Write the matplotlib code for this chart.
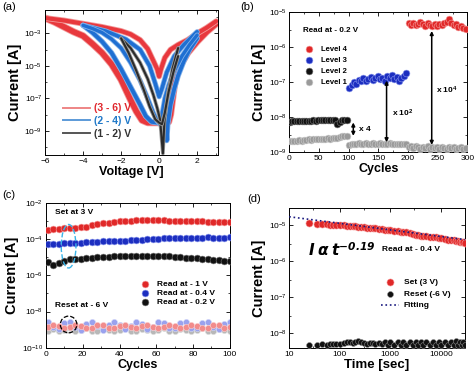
import numpy as np
import matplotlib
matplotlib.use('Agg')
import matplotlib.pyplot as plt
from matplotlib.ticker import LogLocator, NullFormatter, MultipleLocator, FixedLocator, FixedFormatter
from matplotlib.lines import Line2D
from matplotlib.patches import Ellipse

plt.rcParams['font.family'] = ['Liberation Sans', 'DejaVu Sans']
plt.rcParams['mathtext.fontset'] = 'custom'
plt.rcParams['mathtext.rm'] = 'Liberation Sans'
plt.rcParams['mathtext.it'] = 'Liberation Sans:italic'
plt.rcParams['mathtext.bf'] = 'Liberation Sans:bold'

# ---------------- (a) I-V sweeps, log10(|I|) ----------------
red_v_hrs = [-6, -5.5, -5, -4.5, -4, -3.5, -3, -2.5, -2, -1.5, -1.2, -0.9, -0.6, -0.3, 0.0, 0.3, 0.5, 0.6, 0.8, 1.0, 1.5, 2.0, 2.5, 3.0]
red_i_hrs = [-2.05, -2.3, -2.6, -2.9, -3.15, -3.65, -4.2, -4.9, -5.85, -7.1, -7.8, -8.35, -8.5, -8.5, -8.5, -8.5, -8.45, -8.0, -6.2, -5.2, -4.2, -3.5, -2.9, -2.4]
red_v_lrs = [-6, -5, -4, -3, -2, -1.5, -1.0, -0.6, -0.3, -0.1, 0.0, 0.1, 0.3, 0.6, 1.0, 1.5, 2.0, 2.5, 3.0]
red_i_lrs = [-2.05, -2.2, -2.4, -2.6, -2.85, -3.05, -3.4, -3.95, -4.7, -5.2, -5.65, -5.2, -4.5, -4.0, -3.7, -3.4, -3.0, -2.65, -2.25]

blue_v_hrs = [-4, -3.5, -3, -2.5, -2, -1.5, -1.0, -0.7, -0.4, -0.1, 0.2, 0.35, 0.4, 0.45, 0.6, 0.8, 1.0, 1.3, 1.6, 2.0]
blue_i_hrs = [-2.5, -2.95, -3.5, -4.2, -5.2, -6.3, -7.4, -8.1, -8.45, -8.5, -8.5, -8.8, -9.6, -8.6, -7.4, -6.4, -5.6, -4.7, -4.0, -3.3]
blue_v_mid = [-4, -3.5, -3, -2.5, -2, -1.5, -1.0, -0.6, -0.3, -0.1, 0.05, 0.15, 0.3, 0.5, 0.8, 1.2, 1.6, 2.0]
blue_i_mid = [-2.5, -2.7, -2.95, -3.35, -3.9, -4.8, -5.9, -7.0, -7.9, -8.4, -8.6, -8.0, -7.0, -6.2, -5.3, -4.4, -3.7, -3.1]
blue_v_lrs = [-4, -2.8, -1.75, -1.0, -0.5, -0.2, 0.0, 0.15, 0.4, 0.8, 1.3, 2.0]
blue_i_lrs = [-2.5, -2.86, -3.36, -4.0, -5.0, -6.1, -6.9, -6.4, -5.4, -4.4, -3.7, -2.9]

black_v_a = [-2, -1.5, -1.0, -0.6, -0.3, -0.1, 0.05, 0.2, 0.28, 0.45, 0.7, 1.0]
black_i_a = [-3.3, -3.9, -4.8, -5.8, -6.8, -7.6, -8.3, -10.4, -8.4, -6.8, -5.2, -3.9]
black_v_b = [-2, -1.6, -1.2, -0.8, -0.5, -0.2, 0.0, 0.15, 0.3, 0.5, 0.75, 1.0]
black_i_b = [-3.3, -4.2, -5.3, -6.5, -7.5, -8.3, -8.5, -8.6, -7.9, -6.6, -5.4, -4.4]

# ---------------- (b) multilevel retention vs cycles ----------------
lv2_cyc = np.arange(1, 100, 4)
lv2 = [7.4e-9, 7.6e-9, 7.5e-9, 7.7e-9, 7.6e-9, 7.8e-9, 7.7e-9, 7.9e-9, 7.8e-9, 7.9e-9, 8.0e-9, 7.9e-9, 8.1e-9,
       8.0e-9, 8.0e-9, 8.1e-9, 8.0e-9, 8.2e-9, 8.0e-9, 8.1e-9, 6.4e-9, 7.0e-9, 8.0e-9, 8.2e-9, 8.0e-9]
lv1_cyc = np.arange(1, 300, 4)
lv1 = [2.0e-9, 2.1e-9, 2.0e-9, 2.1e-9, 2.2e-9, 2.1e-9, 2.2e-9, 2.2e-9, 2.3e-9, 2.2e-9, 2.3e-9, 2.3e-9, 2.4e-9,
       2.3e-9, 2.4e-9, 2.4e-9, 2.5e-9, 2.4e-9, 2.5e-9, 2.5e-9, 2.6e-9, 2.7e-9, 2.8e-9, 2.9e-9, 2.8e-9,
       1.6e-9, 1.7e-9, 1.75e-9, 1.7e-9, 1.8e-9, 1.7e-9, 1.75e-9, 1.8e-9, 1.7e-9, 1.75e-9, 1.8e-9, 1.75e-9, 1.7e-9,
       1.8e-9, 1.75e-9, 1.7e-9, 1.75e-9, 1.8e-9, 1.7e-9, 1.65e-9, 1.75e-9, 1.7e-9, 1.65e-9, 1.7e-9, 1.75e-9,
       1.4e-9, 1.5e-9, 1.3e-9, 1.45e-9, 1.35e-9, 1.25e-9, 1.4e-9, 1.3e-9, 1.45e-9, 1.2e-9, 1.35e-9, 1.3e-9, 1.4e-9,
       1.25e-9, 1.35e-9, 1.3e-9, 1.2e-9, 1.35e-9, 1.3e-9, 1.4e-9, 1.25e-9, 1.3e-9, 1.35e-9, 1.2e-9, 1.3e-9]
lv3_cyc = np.arange(101, 200, 4)
lv3 = [7.0e-8, 8.5e-8, 1.0e-7, 9.0e-8, 1.15e-7, 1.05e-7, 1.3e-7, 1.1e-7, 1.25e-7, 1.4e-7, 1.15e-7, 1.3e-7, 1.5e-7,
       1.2e-7, 1.35e-7, 1.1e-7, 1.45e-7, 1.3e-7, 1.6e-7, 1.2e-7, 1.4e-7, 1.1e-7, 1.3e-7, 1.5e-7, 1.85e-7]
lv4_cyc = np.arange(201, 300, 4)
lv4 = [4.8e-6, 4.4e-6, 5.0e-6, 4.2e-6, 4.6e-6, 5.3e-6, 4.5e-6, 4.1e-6, 4.9e-6, 4.4e-6, 3.9e-6, 4.6e-6, 4.0e-6,
       4.5e-6, 4.2e-6, 4.8e-6, 5.2e-6, 6.3e-6, 5.0e-6, 4.3e-6, 4.7e-6, 3.8e-6, 4.0e-6, 3.5e-6, 3.3e-6]

# ---------------- (c) endurance ----------------
c_cyc = np.arange(1, 101, 3)
set_1v = [3.2e-4, 3.4e-4, 3.5e-4, 3.8e-4, 4.0e-4, 4.1e-4, 4.3e-4, 4.8e-4, 5.6e-4, 6.5e-4, 7.4e-4, 8.0e-4, 8.6e-4,
          9.2e-4, 9.6e-4, 1.0e-3, 1.05e-3, 1.08e-3, 1.1e-3, 1.08e-3, 1.06e-3, 1.05e-3, 1.03e-3, 1.0e-3, 9.8e-4,
          9.6e-4, 9.5e-4, 9.3e-4, 9.2e-4, 9.0e-4, 8.9e-4, 8.8e-4, 8.9e-4, 9.0e-4]
set_04v = [5.2e-5, 5.4e-5, 5.6e-5, 5.8e-5, 6.0e-5, 6.0e-5, 6.2e-5, 6.5e-5, 6.8e-5, 7.0e-5, 7.3e-5, 7.5e-5, 7.6e-5,
           7.8e-5, 8.0e-5, 8.4e-5, 8.8e-5, 9.2e-5, 9.6e-5, 1.0e-4, 1.04e-4, 1.08e-4, 1.1e-4, 1.12e-4, 1.14e-4,
           1.16e-4, 1.18e-4, 1.2e-4, 1.2e-4, 1.22e-4, 1.2e-4, 1.18e-4, 1.2e-4, 1.22e-4]
set_02v = [5.5e-6, 3.6e-6, 4.8e-6, 6.5e-6, 7.5e-6, 8.0e-6, 8.3e-6, 8.8e-6, 9.3e-6, 9.6e-6, 1.0e-5, 1.05e-5, 1.15e-5,
           1.1e-5, 1.15e-5, 1.18e-5, 1.2e-5, 1.18e-5, 1.15e-5, 1.15e-5, 1.18e-5, 1.12e-5, 1.1e-5, 1.05e-5, 1.0e-5,
           9.5e-6, 9.0e-6, 8.5e-6, 8.0e-6, 7.5e-6, 7.0e-6, 6.8e-6, 6.5e-6, 6.2e-6]
reset_1v = [1.5e-9, 1.9e-9, 1.6e-9, 1.2e-9, 1.4e-9, 1.9e-9, 1.7e-9, 1.2e-9, 1.3e-9, 1.8e-9, 1.8e-9, 1.3e-9, 1.2e-9,
            1.7e-9, 1.9e-9, 1.4e-9, 1.2e-9, 1.6e-9, 1.9e-9, 1.5e-9, 1.2e-9, 1.5e-9, 1.9e-9, 1.6e-9, 1.2e-9,
            1.4e-9, 1.9e-9, 1.7e-9, 1.2e-9, 1.3e-9, 1.8e-9, 1.8e-9, 1.3e-9, 1.4e-9]
reset_04v = [2.6e-9, 1.4e-9, 1.1e-9, 2.2e-9, 2.8e-9, 1.5e-9, 1.0e-9, 2.0e-9, 2.8e-9, 1.7e-9, 1.0e-9, 1.8e-9, 2.7e-9,
             1.9e-9, 1.1e-9, 1.6e-9, 2.6e-9, 2.1e-9, 1.1e-9, 1.4e-9, 2.5e-9, 2.3e-9, 1.2e-9, 1.3e-9, 2.4e-9,
             2.5e-9, 1.3e-9, 1.2e-9, 2.2e-9, 2.6e-9, 1.4e-9, 1.1e-9, 2.1e-9, 2.7e-9]
reset_02v = [9e-10, 1.1e-9, 8e-10, 1.0e-9, 1.2e-9, 8.5e-10, 9.5e-10, 1.2e-9, 9e-10, 8.5e-10, 1.1e-9, 1.0e-9, 8e-10,
             1.0e-9, 1.2e-9, 9e-10, 8.5e-10, 1.1e-9, 1.0e-9, 8e-10, 1.0e-9, 1.2e-9, 9e-10, 8.5e-10, 1.1e-9,
             1.0e-9, 8e-10, 9.5e-10, 1.2e-9, 9e-10, 8.5e-10, 1.1e-9, 1.0e-9, 9e-10]

# ---------------- (d) retention vs time ----------------
t_sec = [25, 35, 45, 55, 65, 75, 85, 100, 120, 140, 160, 180, 200, 230, 260, 300, 350, 400, 450, 500, 600, 700,
         800, 900, 1000, 1200, 1400, 1600, 1800, 2000, 2400, 2800, 3200, 3600, 4000, 4500, 5000, 6000, 7000, 8000,
         9000, 10000, 12000, 14000, 16000, 18000, 20000, 22000, 24000, 26000, 28000, 30000]
i_set = [1.1e-5, 1.08e-5, 1.04e-5, 1.03e-5, 1.02e-5, 1.0e-5, 9.9e-6, 9.8e-6, 9.7e-6, 9.6e-6, 9.5e-6, 9.4e-6, 9.2e-6,
         9.0e-6, 8.9e-6, 8.7e-6, 8.4e-6, 8.2e-6, 8.1e-6, 8.0e-6, 7.8e-6, 7.6e-6, 7.4e-6, 7.3e-6, 7.1e-6, 6.9e-6,
         6.7e-6, 6.5e-6, 6.3e-6, 6.2e-6, 5.9e-6, 5.6e-6, 5.3e-6, 5.1e-6, 4.9e-6, 4.8e-6, 4.8e-6, 4.7e-6, 4.6e-6,
         4.5e-6, 4.4e-6, 4.3e-6, 4.1e-6, 3.9e-6, 3.8e-6, 3.7e-6, 3.6e-6, 3.5e-6, 3.4e-6, 3.35e-6, 3.3e-6, 3.2e-6]
i_reset = [4.7e-9, 4.6e-9, 4.8e-9, 4.7e-9, 4.9e-9, 4.8e-9, 5.0e-9, 4.9e-9, 5.2e-9, 5.4e-9, 5.6e-9, 5.3e-9, 5.6e-9,
           5.8e-9, 5.4e-9, 5.2e-9, 5.0e-9, 5.3e-9, 5.1e-9, 4.9e-9, 5.2e-9, 4.8e-9, 5.4e-9, 4.7e-9, 5.5e-9, 4.6e-9,
           5.6e-9, 4.7e-9, 5.5e-9, 4.6e-9, 5.6e-9, 4.7e-9, 5.5e-9, 4.6e-9, 5.5e-9, 4.7e-9, 5.6e-9, 4.6e-9, 5.5e-9,
           4.7e-9, 5.6e-9, 4.6e-9, 5.7e-9, 4.7e-9, 5.6e-9, 4.6e-9, 5.8e-9, 4.7e-9, 5.6e-9, 4.6e-9, 5.7e-9, 4.7e-9]
fit_t = [10, 30000]
fit_i = [1.69e-5, 3.9e-6]

RED = '#e8383d'
BLUE = '#1f6fd2'
DARK = '#2b2b2b'


def style(ax):
    ax.tick_params(which='both', direction='in', top=True, right=True, labelsize=6, pad=2)
    ax.tick_params(which='major', length=3, width=0.6)
    ax.tick_params(which='minor', length=1.6, width=0.5)
    for s in ax.spines.values():
        s.set_linewidth(0.7)


def log_ticks(ax, majors, minor_subs=(1.0,)):
    ax.yaxis.set_major_locator(FixedLocator(majors))
    ax.yaxis.set_minor_locator(LogLocator(base=10, subs=minor_subs, numticks=30))
    ax.yaxis.set_minor_formatter(NullFormatter())


def balls(ax, x, y, face, edge, s=24, label=None, z=3):
    return ax.scatter(x, y, s=s, c=face, edgecolors=edge, linewidths=0.4, label=label, zorder=z)


fig = plt.figure(figsize=(4.74, 3.81), dpi=100)

# ================= (a) =================
ax = fig.add_axes([0.095, 0.593, 0.365, 0.381])
style(ax)
curves = [(red_v_hrs, red_i_hrs, RED, '#f39a9a', 4.0),
          (red_v_lrs, red_i_lrs, RED, '#f39a9a', 3.0),
          (blue_v_hrs, blue_i_hrs, BLUE, '#7fb0ea', 2.8),
          (blue_v_lrs, blue_i_lrs, BLUE, '#7fb0ea', 2.6),
          (blue_v_mid, blue_i_mid, BLUE, '#7fb0ea', 2.4),
          (black_v_a, black_i_a, DARK, '#999999', 1.5),
          (black_v_b, black_i_b, DARK, '#999999', 1.5)]
for v, logi, c, light, lw in curves:
    ax.plot(v, 10.0 ** np.array(logi), color=light, lw=lw + 1.2, solid_capstyle='round')
    ax.plot(v, 10.0 ** np.array(logi), color=c, lw=lw, solid_capstyle='round')
ax.set_yscale('log')
ax.set_xlim(-6, 3.1)
ax.set_ylim(10 ** -10.5, 10 ** -1.55)
log_ticks(ax, [1e-9, 1e-7, 1e-5, 1e-3])
ax.xaxis.set_major_locator(FixedLocator([-6, -4, -2, 0, 2]))
ax.xaxis.set_minor_locator(MultipleLocator(1))
ax.set_xlabel('Voltage [V]', fontsize=9, fontweight='bold', labelpad=1)
ax.set_ylabel('Current [A]', fontsize=10.5, fontweight='bold', labelpad=2)
hand = [Line2D([], [], color='#ee8585', lw=1.4),
        Line2D([], [], color='#5c9ad8', lw=1.4),
        Line2D([], [], color='#555555', lw=1.4)]
leg = ax.legend(hand, ['(3 - 6) V', '(2 - 4) V', '(1 - 2) V'], loc='upper left',
                bbox_to_anchor=(0.05, 0.42), frameon=False, handlelength=2.6, handletextpad=0.4,
                labelspacing=0.25, prop={'size': 7.5, 'weight': 'bold'},
                labelcolor=['#e0262c', '#1f78c8', '#333333'])

# ================= (b) =================
ax = fig.add_axes([0.610, 0.601, 0.376, 0.367])
style(ax)
balls(ax, lv1_cyc, lv1, '#9a9a9a', '#cfcfcf', label='Level 1')
balls(ax, lv2_cyc, lv2, '#111111', '#777777', label='Level 2')
balls(ax, lv3_cyc, lv3, '#1c2ec0', '#8f9cf0', label='Level 3')
balls(ax, lv4_cyc, lv4, '#e02828', '#f7a0a0', label='Level 4')
ax.set_yscale('log')
ax.set_xlim(0, 300)
ax.set_ylim(1e-9, 1e-5)
log_ticks(ax, [1e-9, 1e-8, 1e-7, 1e-6, 1e-5], minor_subs=(3.0,))
ax.xaxis.set_major_locator(MultipleLocator(50))
ax.xaxis.set_minor_locator(MultipleLocator(25))
ax.set_xlabel('Cycles', fontsize=9, fontweight='bold', labelpad=1)
ax.set_ylabel('Current [A]', fontsize=10.5, fontweight='bold', labelpad=2)
arw = dict(arrowstyle='<|-|>', color='k', lw=1.1, mutation_scale=5, shrinkA=0, shrinkB=0)
ax.annotate('', xy=(108, 2.9e-9), xytext=(108, 7.0e-9), arrowprops=arw)
ax.annotate('', xy=(164, 1.9e-9), xytext=(164, 1.1e-7), arrowprops=arw)
ax.annotate('', xy=(240, 1.6e-9), xytext=(240, 2.9e-6), arrowprops=arw)
ax.text(117, 4.3e-9, 'x 4', fontsize=6, fontweight='bold', va='center')
ax.text(173, 1.3e-8, 'x 10$^{\\mathbf{2}}$', fontsize=6, fontweight='bold', va='center')
ax.text(247, 6.0e-8, 'x 10$^{\\mathbf{4}}$', fontsize=6, fontweight='bold', va='center')
ax.text(0.08, 0.87, 'Read at - 0.2 V', transform=ax.transAxes, fontsize=5.8, fontweight='bold', va='center')
h, l = ax.get_legend_handles_labels()
ax.legend(h[::-1], l[::-1], loc='upper left', bbox_to_anchor=(0.03, 0.81), frameon=False,
          handletextpad=0.6, labelspacing=0.5, prop={'size': 5.5, 'weight': 'bold'})

# ================= (c) =================
ax = fig.add_axes([0.097, 0.087, 0.388, 0.381])
style(ax)
balls(ax, c_cyc, reset_02v, '#b8b8b8', '#e0e0e0', s=20, z=2)
balls(ax, c_cyc, reset_04v, '#9aa2ee', '#d4d8f8', s=20, z=2)
balls(ax, c_cyc, reset_1v, '#f28c8c', '#fbd0d0', s=20, z=2)
balls(ax, c_cyc, set_1v, '#e02828', '#f7a0a0', s=24, label='Read at - 1 V')
balls(ax, c_cyc, set_04v, '#1c2ec0', '#8f9cf0', s=24, label='Read at - 0.4 V')
balls(ax, c_cyc, set_02v, '#111111', '#777777', s=24, label='Read at - 0.2 V')
ax.set_yscale('log')
ax.set_xlim(0, 100)
ax.set_ylim(1e-10, 1e-2)
log_ticks(ax, [1e-10, 1e-8, 1e-6, 1e-4, 1e-2])
ax.xaxis.set_major_locator(MultipleLocator(20))
ax.xaxis.set_minor_locator(MultipleLocator(10))
ax.set_xlabel('Cycles', fontsize=9, fontweight='bold', labelpad=1)
ax.set_ylabel('Current [A]', fontsize=10.5, fontweight='bold', labelpad=2)
ax.text(0.05, 0.93, 'Set at 3 V', transform=ax.transAxes, fontsize=6, fontweight='bold', va='center')
ax.text(0.05, 0.295, 'Reset at - 6 V', transform=ax.transAxes, fontsize=6, fontweight='bold', va='center')
ax.add_patch(Ellipse((0.123, 0.70), 0.08, 0.30, transform=ax.transAxes, fill=False,
                     ec='#3ab4e8', ls='--', lw=1.0, zorder=5))
ax.add_patch(Ellipse((0.123, 0.161), 0.09, 0.115, transform=ax.transAxes, fill=False,
                     ec='k', ls='--', lw=0.9, zorder=5))
ax.legend(loc='upper left', bbox_to_anchor=(0.45, 0.52), frameon=False, handletextpad=0.5,
          labelspacing=0.15, prop={'size': 6, 'weight': 'bold'})

# ================= (d) =================
ax = fig.add_axes([0.610, 0.087, 0.371, 0.367])
style(ax)
balls(ax, t_sec, i_set, '#e02828', '#f7a0a0', s=26, label='Set (3 V)')
balls(ax, t_sec, i_reset, '#111111', '#888888', s=18, label='Reset (-6 V)')
ax.plot(fit_t, fit_i, ls=':', color='#1a1a80', lw=1.2, label='Fitting', zorder=4)
ax.set_xscale('log')
ax.set_yscale('log')
ax.set_xlim(10, 30000)
ax.set_ylim(10 ** -8.42, 10 ** -4.53)
log_ticks(ax, [1e-8, 1e-7, 1e-6, 1e-5], minor_subs=(3.0,))
ax.xaxis.set_major_locator(FixedLocator([10, 100, 1000, 10000]))
ax.xaxis.set_major_formatter(FixedFormatter(['10', '100', '1000', '10000']))
ax.xaxis.set_minor_locator(LogLocator(base=10, subs=(3.0,), numticks=30))
ax.xaxis.set_minor_formatter(NullFormatter())
ax.set_xlabel('Time [sec]', fontsize=9.5, fontweight='bold', labelpad=1)
ax.set_ylabel('Current [A]', fontsize=10.5, fontweight='bold', labelpad=2)
ax.text(0.11, 0.70, r'$\mathbfit{I}\;\mathbfit{\alpha}\;\mathbfit{t}^{\mathbfit{-0.19}}$', transform=ax.transAxes,
        fontsize=11, va='center')
ax.text(0.53, 0.70, 'Read at - 0.4 V', transform=ax.transAxes, fontsize=6, fontweight='bold', va='center')
ax.legend(loc='upper left', bbox_to_anchor=(0.48, 0.55), frameon=False, handletextpad=0.5,
          handlelength=2.2, labelspacing=0.45, prop={'size': 6, 'weight': 'bold'})

fig.text(0.004, 0.995, '(a)', fontsize=8, va='top')
fig.text(0.506, 0.995, '(b)', fontsize=8, va='top')
fig.text(0.004, 0.500, '(c)', fontsize=8, va='top')
fig.text(0.521, 0.492, '(d)', fontsize=8, va='top')

fig.savefig('out.png', dpi=100)
